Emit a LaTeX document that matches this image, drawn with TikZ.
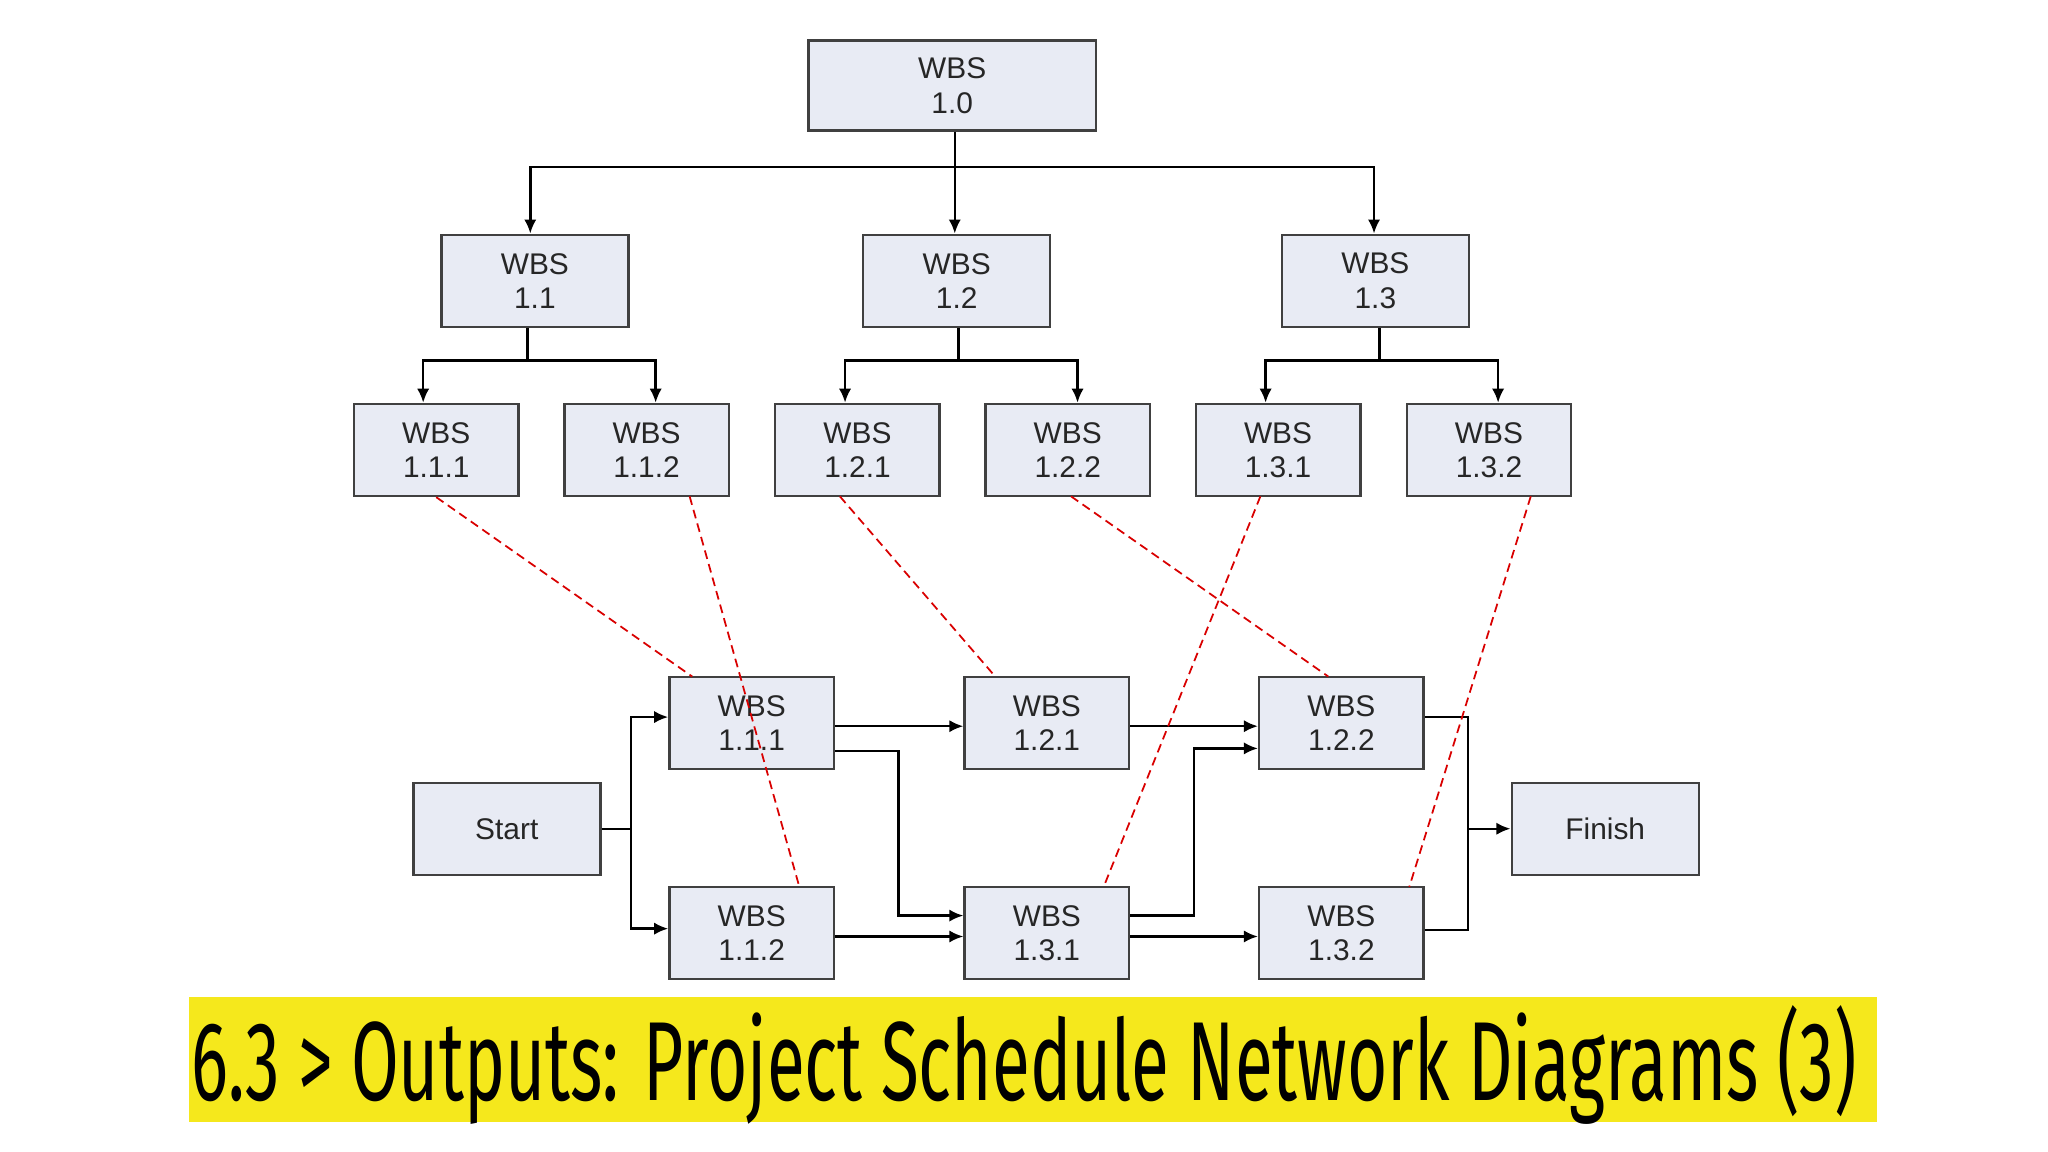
\documentclass[tikz,border=0pt]{standalone}
\usepackage{fontspec}
\setmainfont{Liberation Sans}
\newfontfamily\titlefont{Fira Sans}
\usetikzlibrary{arrows.meta}
\definecolor{boxfill}{HTML}{E8EBF4}
\definecolor{boxline}{HTML}{404040}
\definecolor{band}{HTML}{F5E81C}
\begin{document}
\begin{tikzpicture}[x=0.013061cm,y=-0.013061cm,
  box/.style={draw=boxline,line width=0.7pt,fill=boxfill,align=center,inner sep=0pt,
    font=\fontsize{8.5}{9.8}\selectfont,text=black!85},
  b2/.style={box,minimum width=1.87cm,minimum height=0.92cm},
  b3/.style={box,minimum width=1.645cm,minimum height=0.92cm},
  arr/.style={line width=0.7pt,-{Latex[length=4pt,width=3.5pt]}},
  ln/.style={line width=0.7pt},
  reddash/.style={red!85!black,line width=0.5pt,dash pattern=on 2.5pt off 1.5pt}]
\useasboundingbox (0,0) rectangle (1568,882);
\fill[white] (0,0) rectangle (1568,882);
% WBS tree
\node[box,minimum width=2.873cm,minimum height=0.9cm] (w10) at (729,65.5) {WBS\\1.0};
\node[b2] (w11) at (409.5,215) {WBS\\1.1};
\node[b2] (w12) at (732.5,215) {WBS\\1.2};
\node[b2] (w13) at (1053,215) {WBS\\1.3};
\node[b3] (w111) at (334,344.5) {WBS\\1.1.1};
\node[b3] (w112) at (495,344.5) {WBS\\1.1.2};
\node[b3] (w121) at (656.5,344.5) {WBS\\1.2.1};
\node[b3] (w122) at (817.5,344.5) {WBS\\1.2.2};
\node[b3] (w131) at (978.5,344.5) {WBS\\1.3.1};
\node[b3] (w132) at (1140,344.5) {WBS\\1.3.2};
\coordinate (j0) at (731,128);
\draw[ln] (w10.south -| j0) -- (j0);
\draw[arr] (j0) -| (w11.north -| 406,0);
\draw[arr] (j0) -- (w12.north -| j0);
\draw[arr] (j0) -| (w13.north -| 1052,0);
\coordinate (j1) at (404,276);
\draw[ln] (w11.south -| j1) -- (j1);
\draw[arr] (j1) -| (w111.north -| 324,0);
\draw[arr] (j1) -| (w112.north -| 502,0);
\coordinate (j2) at (734,276);
\draw[ln] (w12.south -| j2) -- (j2);
\draw[arr] (j2) -| (w121.north -| 647,0);
\draw[arr] (j2) -| (w122.north -| 825,0);
\coordinate (j3) at (1056,276);
\draw[ln] (w13.south -| j3) -- (j3);
\draw[arr] (j3) -| (w131.north -| 969,0);
\draw[arr] (j3) -| (w132.north -| 1147,0);
% network
\node[b3] (n111) at (575.5,553.5) {WBS\\1.1.1};
\node[b3] (n121) at (801.5,553.5) {WBS\\1.2.1};
\node[b3] (n122) at (1027,553.5) {WBS\\1.2.2};
\node[b3] (n112) at (575.5,714.5) {WBS\\1.1.2};
\node[b3] (n131) at (801.5,714.5) {WBS\\1.3.1};
\node[b3] (n132) at (1027,714.5) {WBS\\1.3.2};
\node[b2] (start) at (388,634.5) {Start};
\node[b2] (finish) at (1229,634.5) {Finish};
\coordinate (s1) at (483,634.5);
\draw[ln] (start.east) -- (s1);
\draw[arr] (s1) |- (n111.west |- 0,549);
\draw[arr] (s1) |- (n112.west |- 0,711);
\draw[arr] (n111.east |- 0,556) -- (n121.west |- 0,556);
\draw[arr] (n111.east |- 0,575) -- (688,575) |- (n131.west |- 0,701);
\draw[arr] (n112.east |- 0,717) -- (n131.west |- 0,717);
\draw[arr] (n121.east |- 0,556) -- (n122.west |- 0,556);
\draw[arr] (n131.east |- 0,701) -- (914,701) |- (n122.west |- 0,573);
\draw[arr] (n131.east |- 0,717) -- (n132.west |- 0,717);
\coordinate (f1) at (1124,634.5);
\draw[ln] (n122.east |- 0,549) -| (f1);
\draw[ln] (n132.east |- 0,712) -| (f1);
\draw[arr] (f1) -- (finish.west);
% dashed mapping
\draw[reddash] (w111.south) -- (530,518);
\draw[reddash] (528,380) -- (612,679);
\draw[reddash] (643,380) -- (762,518);
\draw[reddash] (820,380) -- (1017,518);
\draw[reddash] (965,380) -- (845,679);
\draw[reddash] (1172,380) -- (1079,679);
% title
\fill[band] (145,763) rectangle (1437,859);
\node[inner sep=0pt] (title) at (784,815) {\resizebox{16.65cm}{0.95cm}{\titlefont 6.3 > Outputs: Project Schedule Network Diagrams (3)}};
\end{tikzpicture}
\end{document}
